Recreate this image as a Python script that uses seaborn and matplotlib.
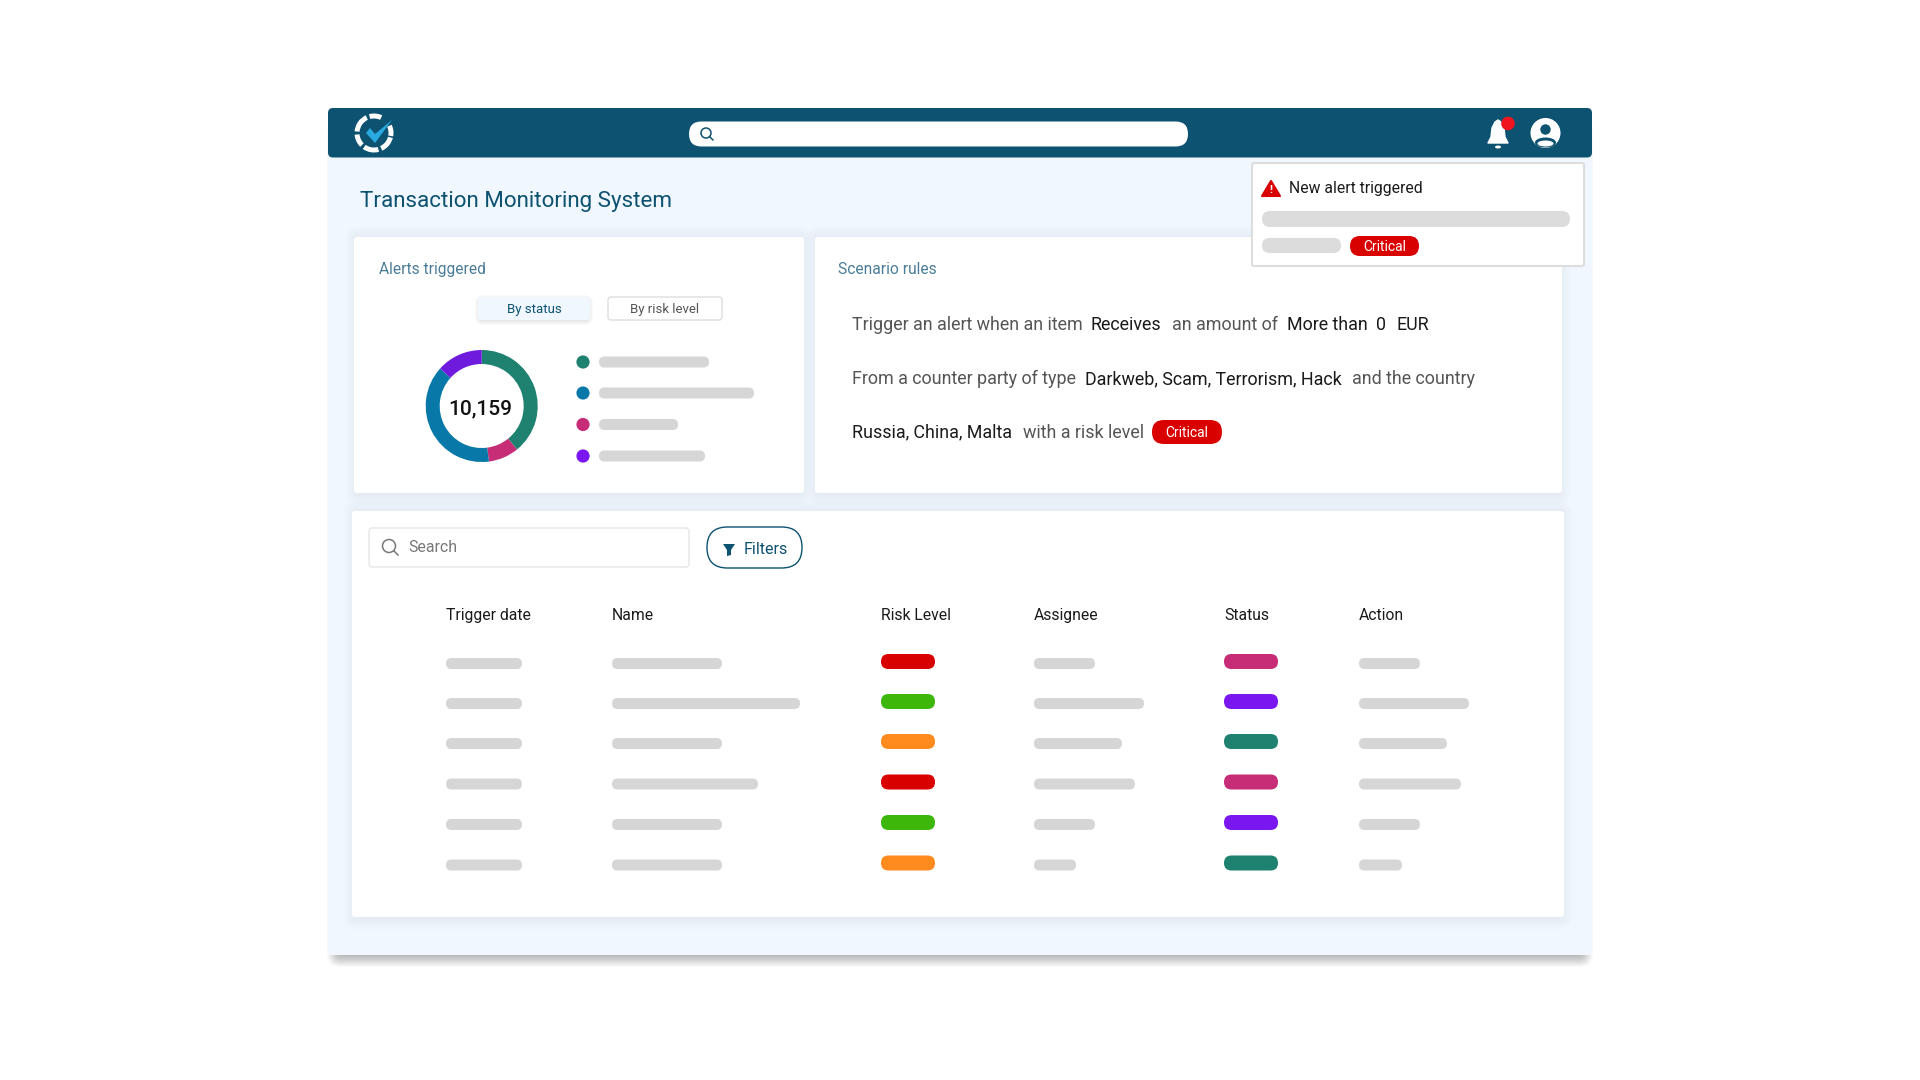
import numpy as np
import pandas as pd
import seaborn as sns
import matplotlib
matplotlib.use("Agg")
import matplotlib.pyplot as plt
from matplotlib.patches import FancyBboxPatch, Circle, Ellipse, Wedge, Polygon, Rectangle

# ---- chart values ----
donut_labels = ["Green", "Magenta", "Blue", "Purple"]
donut_values = [3979, 889, 3937, 1354]
donut_total = "10,159"
legend_labels = ["Green", "Blue", "Magenta", "Purple"]
legend_bar_widths = [110, 155, 79, 106]

table_headers = ["Trigger date", "Name", "Risk Level", "Assignee", "Status", "Action"]
trigger_widths = [76, 76, 76, 76, 76, 76]
name_widths = [110, 188, 110, 146, 110, 110]
risk_levels = ["red", "green", "orange", "red", "green", "orange"]
assignee_widths = [61, 110, 88, 101, 61, 42]
status_levels = ["magenta", "purple", "teal", "magenta", "purple", "teal"]
action_widths = [61, 110, 88, 102, 61, 43]

# ---- colours ----
NAVY = "#0D5270"
PAGE = "#F0F7FE"
GREY = "#D6D6D6"
RED = "#D90000"
TEXT = "#1A1A1A"
LIGHT_TEXT = "#555555"
TITLE2 = "#4A7C98"
donut_colors = ["#1F816F", "#C72C77", "#0878A8", "#6F1BDE"]
dot_palette = {"Green": "#1F816F", "Blue": "#0878A8", "Magenta": "#C72C77", "Purple": "#7A16F0"}
pill_colors = {"red": "#D90000", "green": "#3DB80A", "orange": "#FF8A1E",
               "magenta": "#C72C77", "purple": "#7A16F0", "teal": "#1F816F"}

sns.set_theme(style="white")
plt.rcParams["font.family"] = ["Roboto", "DejaVu Sans"]

fig = plt.figure(figsize=(19.2, 10.8), dpi=100, facecolor="white")
ax = fig.add_axes([0, 0, 1, 1])
ax.set_xlim(0, 1920)
ax.set_ylim(1080, 0)
ax.axis("off")


def box(x0, y0, x1, y1, face, edge="none", lw=0, r=3, z=2, alpha=1):
    p = FancyBboxPatch((x0 + r, y0 + r), x1 - x0 - 2 * r, y1 - y0 - 2 * r,
                       boxstyle="round,pad=%f,rounding_size=%f" % (r, r),
                       fc=face, ec=edge, lw=lw, zorder=z, alpha=alpha)
    ax.add_patch(p)


def pill(x0, yc, w, h, color, z=4):
    box(x0, yc - h / 2, x0 + w, yc + h / 2, color, r=h / 2 - 0.01, z=z)


def shadow(x0, y0, x1, y1, spread, strength=0.012, z=1):
    for i in range(spread):
        box(x0 - i, y0 - i, x1 + i, y1 + i, "black", r=3 + i, z=z, alpha=strength)


def label(x, y, s, size=12.5, color=TEXT, weight="normal", ha="left", z=6):
    # baseline placement so descenders do not shift a line of text
    baseline = y + 0.37 * size * 100 / 72
    ax.text(x, baseline, s, fontsize=size, color=color, fontweight=weight, ha=ha, va="baseline", zorder=z)


def magnifier(x, y, r, color, lw=1.2):
    ax.add_patch(Circle((x, y), r, fc="none", ec=color, lw=lw, zorder=6))
    k = r * 0.71
    ax.plot([x + k, x + k + r * 0.7], [y + k, y + k + r * 0.7], color=color, lw=lw, zorder=6)


# app window
shadow(338, 130, 1582, 956, 12, strength=0.025)
ax.add_patch(Rectangle((328, 150), 1264, 805, fc=PAGE, ec="none", zorder=2))
box(328, 108, 1592, 157.5, NAVY, r=5, z=3)

# logo, arcs given on screen anticlockwise from east
for a0, a1 in [(-10, 25), (65, 105), (115, 175), (185, 225), (235, 285), (295, 345)]:
    ax.add_patch(Wedge((374, 133), 19.5, -a1, -a0, width=5, fc="white", ec="none", zorder=4))
ax.add_patch(Polygon([[366, 133], [370, 128], [375, 134], [392, 120], [375, 143]],
                     fc="#29A9E0", ec="none", zorder=5))

# top search
pill(689, 134, 499, 25, "white")
magnifier(706, 133, 5, NAVY, 1.1)

# bell
ax.add_patch(Polygon([[1488, 143], [1491, 137], [1492, 128], [1495, 122], [1498, 120], [1501, 122],
                      [1504, 128], [1505, 137], [1508, 143]], fc="white", ec="white", lw=1, joinstyle="round", zorder=4))
ax.add_patch(Ellipse((1498, 147), 6, 3, fc="white", ec="none", zorder=4))
ax.add_patch(Circle((1508, 123.5), 6.8, fc="#F0141E", ec="none", zorder=5))

# user
ax.add_patch(Circle((1545.5, 133), 15, fc="white", ec="none", zorder=4))
ax.add_patch(Circle((1545.5, 129.5), 5.2, fc=NAVY, ec="none", zorder=5))
ax.add_patch(Ellipse((1545.5, 142.5), 21, 10, fc=NAVY, ec="none", zorder=5))
ax.add_patch(Ellipse((1545.5, 143.5), 16, 6, fc="white", ec="none", zorder=5))

label(360, 198.5, "Transaction Monitoring System", size=16.1, color=NAVY)

# cards
for x0, y0, x1, y1 in [(354, 237, 804, 493), (815, 237, 1562, 493), (352, 511, 1564, 917)]:
    shadow(x0 + 2, y0, x1 - 2, y1 + 2, 12, strength=0.004, z=2.5)
    box(x0, y0, x1, y1, "white", r=3, z=3)

# alerts card
label(379, 268.5, "Alerts triggered", size=11.2, color=TITLE2)
shadow(480, 300, 588, 320, 6, strength=0.02, z=3)
box(478, 297, 590, 320, PAGE, r=3, z=4)
label(534, 308.5, "By status", size=9.5, color=NAVY, ha="center")
box(608, 297, 722, 320, "white", edge="#DDDDDD", lw=1, r=3, z=4)
label(665, 308.5, "By risk level", size=9.5, color="#555555", ha="center")

# donut, clockwise from 12 o'clock
donut_ax = fig.add_axes([(481.7 - 60) / 1920, 1 - (406 + 60) / 1080, 120 / 1920, 120 / 1080], zorder=5)
donut_ax.pie(donut_values, colors=donut_colors, startangle=90, counterclock=False, radius=56 / 60,
             wedgeprops=dict(width=14 / 60, linewidth=0))
donut_ax.set_xlim(-1, 1)
donut_ax.set_ylim(-1, 1)
donut_ax.axis("off")
donut_ax.patch.set_alpha(0)
donut_ax.text(-0.02, -0.05, donut_total, fontsize=15, fontweight="medium", color="#111111", ha="center", va="center")

# donut legend
legend_y = [362, 393, 424.5, 456]
leg = pd.DataFrame({"x": [583] * 4, "y": legend_y, "label": legend_labels})
sns.scatterplot(data=leg, x="x", y="y", hue="label", palette=dot_palette,
                s=90, linewidth=0, legend=False, ax=ax, zorder=6)
ax.set_xlabel("")
ax.set_ylabel("")
for y, w in zip(legend_y, legend_bar_widths):
    pill(599, y, w, 11, GREY)

# scenario rules
label(838, 268.5, "Scenario rules", size=11.2, color=TITLE2)
scenario_lines = [
    (323.5, [(852, "Trigger an alert when an item", False), (1091, "Receives", True), (1172, "an amount of", False),
             (1287, "More than", True), (1376, "0", True), (1396, "EUR", True)]),
    (377.5, [(852, "From a counter party of type", False), (1085, "Darkweb, Scam, Terrorism, Hack", True),
             (1352, "and the country", False)]),
    (431, [(852, "Russia, China, Malta", True), (1023, "with a risk level", False)]),
]
for y, parts in scenario_lines:
    for x, s, strong in parts:
        label(x, y, s, size=12.85, color=TEXT if strong else LIGHT_TEXT)
pill(1152, 432, 70, 24, RED)
label(1187, 431.6, "Critical", size=10, color="white", ha="center")

# alert popup
box(1252, 163, 1584, 266, "white", edge="#DDDDDD", lw=1.5, r=2, z=7)
ax.add_patch(Polygon([[1271, 181], [1280, 196], [1262, 196]], fc="#D90000", ec="#D90000", lw=1.5, joinstyle="round", zorder=8))
ax.text(1271, 190, "!", color="white", fontsize=8, fontweight="bold", ha="center", va="center", zorder=9)
label(1289, 187, "New alert triggered", size=11.3, z=9)
pill(1262, 219, 308, 16, "#DCDCDC", z=8)
pill(1262, 245.5, 79, 15, "#DCDCDC", z=8)
pill(1350, 246, 69, 20, RED, z=8)
label(1385, 246, "Critical", size=10, color="white", ha="center", z=9)

# table tools
box(369, 528, 689, 567, "white", edge="#E0E0E0", lw=0.8, r=3, z=4)
magnifier(389, 546, 6.5, "#777777", 1.1)
label(408.5, 546.5, "Search", size=11.4, color="#777777")
box(707, 527, 802, 568, "white", edge=NAVY, lw=1, r=20.4, z=4)
ax.add_patch(Polygon([[723, 544], [735, 544], [731, 550], [731, 555], [727, 556], [727, 550]], fc=NAVY, ec="none", zorder=6))
label(744, 548, "Filters", size=11.6, color=NAVY)

# table
header_x = [446, 612, 881, 1034, 1224, 1359]
for x, s in zip(header_x, table_headers):
    label(x, 614, s, size=11.3)

row_y = [663.5, 703.5, 743.5, 784, 824.5, 865]
for i, y in enumerate(row_y):
    pill(header_x[0], y, trigger_widths[i], 11, GREY)
    pill(header_x[1], y, name_widths[i], 11, GREY)
    pill(header_x[2], y - 2, 54, 15, pill_colors[risk_levels[i]])
    pill(header_x[3], y, assignee_widths[i], 11, GREY)
    pill(header_x[4], y - 2, 54, 15, pill_colors[status_levels[i]])
    pill(header_x[5], y, action_widths[i], 11, GREY)

ax.set_xlim(0, 1920)
ax.set_ylim(1080, 0)
fig.savefig("out.png", dpi=100, facecolor="white")
